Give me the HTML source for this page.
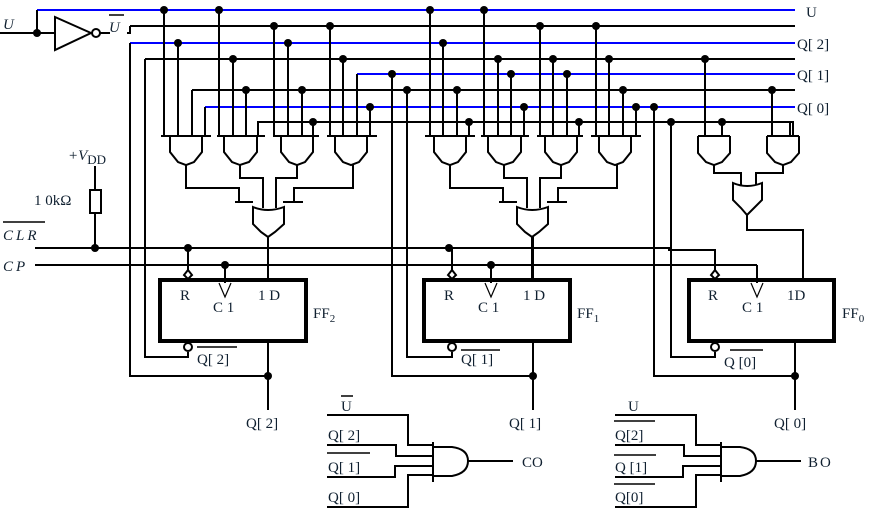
<!DOCTYPE html>
<html><head><meta charset="utf-8"><style>
html,body{margin:0;padding:0;background:#fff}
svg{display:block}
text{font-family:"Liberation Serif",serif;font-size:15px;fill:#102030}
</style></head><body>
<svg width="877" height="529" viewBox="0 0 877 529" xmlns="http://www.w3.org/2000/svg">
<defs>
<g id="gates" fill="none" stroke="#000" stroke-width="2">
  <!-- input bars -->
  <line x1="161" y1="136" x2="211" y2="136"/>
  <line x1="217" y1="136" x2="265" y2="136"/>
  <line x1="273" y1="136" x2="319" y2="136"/>
  <line x1="327" y1="136" x2="377" y2="136"/>
  <!-- AND bodies -->
  <path d="M170 136V152L178 162L186 165L194 162L202 152V136"/>
  <path d="M224 136V152L232 162L240 165L249 162L257 152V136"/>
  <path d="M281 136V152L289 162L297 165L305 162L313 152V136"/>
  <path d="M335 136V152L343 162L351 165L359 162L367 152V136"/>
  <!-- outputs -->
  <path d="M186 165V188H239V202"/>
  <path d="M240 165V178H263V208"/>
  <path d="M297 165V178H276V208"/>
  <path d="M353 165V188H294V202"/>
  <line x1="235" y1="202" x2="253" y2="202"/>
  <line x1="283" y1="202" x2="303" y2="202"/>
  <!-- OR -->
  <path d="M253 207V224L261 232L268 237L275 232L284 224V207Q268 213 253 207Z"/>
  <line x1="268" y1="237" x2="268" y2="280"/>
</g>
</defs>

<g fill="none" stroke-width="2">
  <!-- bus lines -->
  <line x1="37" y1="10" x2="795" y2="10" stroke="#0000ff"/>
  <line x1="130" y1="26" x2="795" y2="26" stroke="#000"/>
  <line x1="130" y1="43" x2="795" y2="43" stroke="#0000ff"/>
  <line x1="145" y1="59" x2="795" y2="59" stroke="#000"/>
  <line x1="357" y1="74" x2="795" y2="74" stroke="#0000ff"/>
  <line x1="192" y1="90" x2="795" y2="90" stroke="#000"/>
  <line x1="205" y1="107" x2="795" y2="107" stroke="#0000ff"/>
  <path d="M258 136V122H793V136" stroke="#000"/>
</g>

<g fill="none" stroke="#000" stroke-width="2">
  <!-- input / inverter -->
  <line x1="0" y1="33" x2="55" y2="33"/>
  <line x1="37" y1="10" x2="37" y2="33"/>
  <path d="M55 17L55 50L91 33Z"/>
  <circle cx="96" cy="33" r="4"/>
  <line x1="100" y1="33" x2="110" y2="33"/>
  <path d="M127 33H130V26"/>
  <!-- group1 inputs -->
  <path d="M164 10V136M178 43V136M192 90V136M205 107V136"/>
  <path d="M219 10V136M233 59V136M246 90V136M258 122V136"/>
  <path d="M274 26V136M288 43V136M302 90V136M313 122V136"/>
  <path d="M330 26V136M343 59V136M357 74V136M370 107V136"/>
  <!-- group2 inputs -->
  <path d="M430 10V136M443 43V136M457 90V136M469 122V136"/>
  <path d="M484 10V136M498 59V136M511 74V136M524 107V136"/>
  <path d="M540 26V136M553 59V136M567 74V136M579 122V136"/>
  <path d="M596 26V136M609 59V136M623 90V136M636 107V136"/>
  <!-- group3 -->
  <path d="M705 59V136M722 122V136M772 90V136M790 122V136"/>
  <line x1="698" y1="136" x2="730" y2="136"/>
  <line x1="767" y1="136" x2="799" y2="136"/>
  <path d="M698 136V153L706 162L714 165L722 162L730 153V136"/>
  <path d="M767 136V153L775 162L783 165L791 162L799 153V136"/>
  <path d="M714 165V173H741V185"/>
  <path d="M783 165V173H756V185"/>
  <path d="M733 183V200L741 208L747 215L754 208L762 200V183Q747 189 733 183Z"/>
  <path d="M747 215V230H803V280"/>
  <!-- feedback verticals -->
  <path d="M130 43V376H268"/>
  <path d="M145 59V357H188V352"/>
  <path d="M392 74V376H533"/>
  <path d="M407 90V357H452V352"/>
  <path d="M654 107V376H795"/>
  <path d="M671 122V357H715V352"/>
  <!-- CLR / CP -->
  <line x1="35" y1="248" x2="670" y2="248"/>
  <path d="M668 250H715V270"/>
  <line x1="35" y1="265" x2="757" y2="265"/>
  <path d="M188 248V270M452 248V270"/>
  <path d="M225 265V283M491 265V283M757 265V283"/>
  <!-- resistor -->
  <line x1="95" y1="166" x2="95" y2="190"/>
  <rect x="90" y="190" width="11" height="23"/>
  <line x1="95" y1="213" x2="95" y2="248"/>
  <!-- R bubbles -->
  <path d="M188 270L192 275L188 279L184 275Z"/>
  <path d="M452 270L456 275L452 279L448 275Z"/>
  <path d="M715 270L719 275L715 279L711 275Z"/>
  <circle cx="188" cy="347" r="4"/>
  <circle cx="452" cy="347" r="4"/>
  <circle cx="715" cy="347" r="4"/>
  <!-- C1 triangles -->
  <path d="M219 283L225 297L231 283M485 283L491 297L497 283M751 283L757 297L763 283" stroke-width="1.2"/>
  <!-- outputs -->
  <line x1="268" y1="341" x2="268" y2="410"/>
  <line x1="533" y1="341" x2="533" y2="410"/>
  <path d="M533 237V280"/>
  <line x1="795" y1="341" x2="795" y2="410"/>
</g>
<g fill="none" stroke="#000" stroke-width="4">
  <rect x="160" y="280" width="146" height="61"/>
  <rect x="424" y="280" width="146" height="61"/>
  <rect x="689" y="280" width="145" height="61"/>
</g>
<use href="#gates"/>
<use href="#gates" transform="translate(264,0)"/>

<!-- dots -->
<g fill="#000">
  <circle cx="37" cy="33" r="4"/>
  <circle cx="164" cy="10" r="4"/><circle cx="178" cy="43" r="4"/>
  <circle cx="219" cy="10" r="4"/><circle cx="233" cy="59" r="4"/><circle cx="246" cy="90" r="4"/>
  <circle cx="274" cy="26" r="4"/><circle cx="288" cy="43" r="4"/><circle cx="302" cy="90" r="4"/><circle cx="313" cy="122" r="4"/>
  <circle cx="330" cy="26" r="4"/><circle cx="343" cy="59" r="4"/><circle cx="370" cy="107" r="4"/>
  <circle cx="392" cy="74" r="4"/><circle cx="407" cy="90" r="4"/>
  <circle cx="430" cy="10" r="4"/><circle cx="443" cy="43" r="4"/><circle cx="457" cy="90" r="4"/><circle cx="469" cy="122" r="4"/>
  <circle cx="484" cy="10" r="4"/><circle cx="498" cy="59" r="4"/><circle cx="511" cy="74" r="4"/><circle cx="524" cy="107" r="4"/>
  <circle cx="540" cy="26" r="4"/><circle cx="553" cy="59" r="4"/><circle cx="567" cy="74" r="4"/><circle cx="579" cy="122" r="4"/>
  <circle cx="596" cy="26" r="4"/><circle cx="609" cy="59" r="4"/><circle cx="623" cy="90" r="4"/><circle cx="636" cy="107" r="4"/>
  <circle cx="654" cy="107" r="4"/><circle cx="671" cy="122" r="4"/>
  <circle cx="705" cy="59" r="4"/><circle cx="722" cy="122" r="4"/><circle cx="772" cy="90" r="4"/>
  <circle cx="95" cy="248" r="4"/><circle cx="188" cy="248" r="4"/><circle cx="449" cy="248" r="4"/>
  <circle cx="225" cy="265" r="4"/><circle cx="491" cy="265" r="4"/>
  <circle cx="268" cy="376" r="4"/><circle cx="533" cy="376" r="4"/><circle cx="795" cy="376" r="4"/>
</g>

<!-- bottom gates -->
<g id="cog" fill="none" stroke="#000" stroke-width="2">
  <path d="M327 415H408V445H433"/>
  <path d="M327 445H396V456H433"/>
  <path d="M327 477H395V466H433"/>
  <path d="M327 507H408V475H433"/>
  <line x1="433" y1="442" x2="433" y2="482"/>
  <path d="M433 447H452Q468 449 468 461Q468 473 452 476H433"/>
  <line x1="468" y1="461" x2="513" y2="461"/>
</g>
<use href="#cog" transform="translate(288,0)"/>

<!-- labels -->
<text x="3" y="29" font-style="italic">U</text>
<text x="109" y="32" font-style="italic">U</text>
<line x1="109" y1="15" x2="124" y2="15" stroke="#000" stroke-width="1.5"/>
<text x="3" y="240" font-style="italic" letter-spacing="3">CLR</text>
<line x1="3" y1="222" x2="45" y2="222" stroke="#000" stroke-width="1.5"/>
<text x="3" y="271" font-style="italic" letter-spacing="3">CP</text>
<text x="68" y="160"><tspan font-style="italic">+V</tspan><tspan font-size="13" dy="4">DD</tspan></text>
<text x="34" y="205">1 0kΩ</text>
<text x="806" y="17">U</text>
<text x="797" y="49">Q[ 2]</text>
<text x="797" y="80">Q[ 1]</text>
<text x="797" y="113">Q[ 0]</text>

<text x="180" y="300">R</text><text x="213" y="312">C 1</text><text x="258" y="300">1 D</text>
<text x="313" y="318">FF<tspan font-size="11" dy="4">2</tspan></text>
<text x="197" y="364">Q[ 2]</text><line x1="197" y1="347" x2="237" y2="347" stroke="#000" stroke-width="1.5"/>

<text x="444" y="300">R</text><text x="478" y="312">C 1</text><text x="523" y="300">1 D</text>
<text x="577" y="318">FF<tspan font-size="11" dy="4">1</tspan></text>
<text x="461" y="364">Q[ 1]</text><line x1="461" y1="350" x2="500" y2="350" stroke="#000" stroke-width="1.5"/>

<text x="708" y="300">R</text><text x="742" y="312">C 1</text><text x="787" y="300">1D</text>
<text x="842" y="318">FF<tspan font-size="11" dy="4">0</tspan></text>
<text x="724" y="367">Q [0]</text><line x1="730" y1="350" x2="763" y2="350" stroke="#000" stroke-width="1.5"/>

<text x="246" y="428">Q[ 2]</text>
<text x="509" y="428">Q[ 1]</text>
<text x="774" y="428">Q[ 0]</text>

<text x="341" y="411">U</text><line x1="341" y1="396" x2="353" y2="396" stroke="#000" stroke-width="1.5"/>
<text x="328" y="440">Q[ 2]</text>
<text x="328" y="472">Q[ 1]</text><line x1="327" y1="453" x2="370" y2="453" stroke="#000" stroke-width="1.5"/>
<text x="328" y="502">Q[ 0]</text>
<text x="522" y="467">CO</text>

<text x="628" y="411">U</text>
<text x="615" y="440">Q[2]</text><line x1="614" y1="421" x2="655" y2="421" stroke="#000" stroke-width="1.5"/>
<text x="615" y="472">Q [1]</text><line x1="614" y1="455" x2="656" y2="455" stroke="#000" stroke-width="1.5"/>
<text x="615" y="502">Q[0]</text><line x1="614" y1="484" x2="655" y2="484" stroke="#000" stroke-width="1.5"/>
<text x="808" y="467" letter-spacing="2">BO</text>
</svg>
</body></html>
